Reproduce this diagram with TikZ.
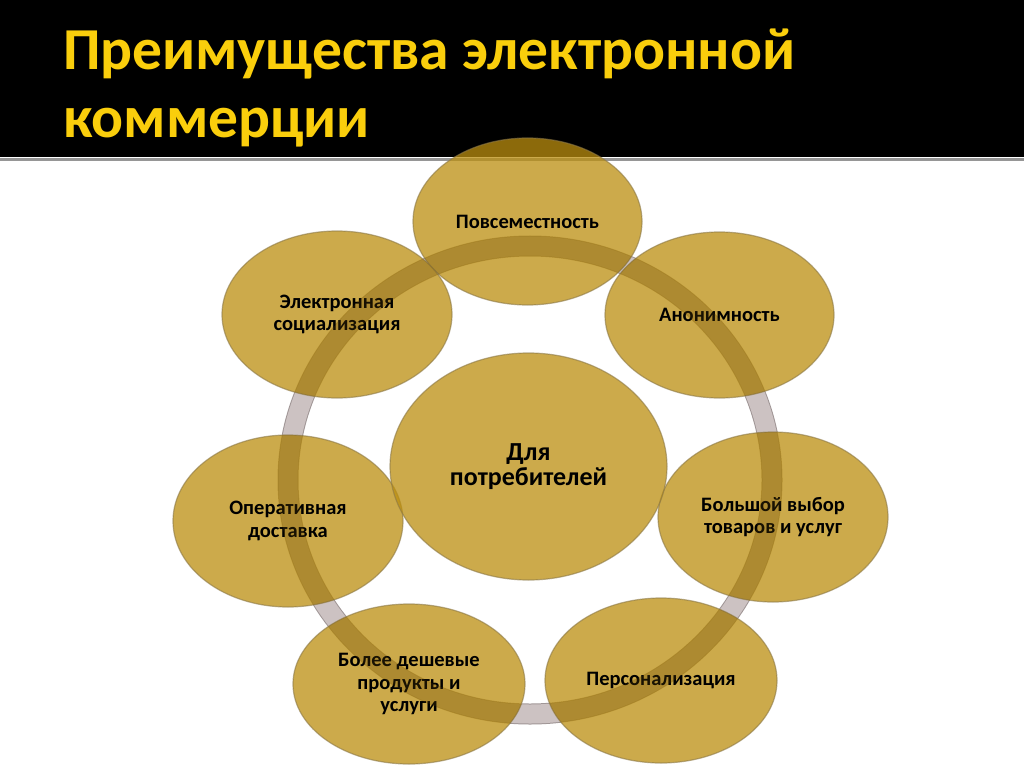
\documentclass[tikz,border=0pt]{standalone}
\usepackage{fontspec}
\setmainfont{Carlito}
\usetikzlibrary{shapes.geometric}
\definecolor{gold}{RGB}{187,142,16}
\definecolor{edgecol}{RGB}{140,120,70}
\definecolor{ringfill}{RGB}{204,194,194}
\definecolor{ringedge}{RGB}{160,150,150}
\definecolor{bandcol}{RGB}{110,80,10}
\definecolor{titlegold}{RGB}{250,206,12}
\definecolor{hdrline}{RGB}{150,150,150}
\tikzset{
  ell/.style={ellipse, draw=edgecol, line width=1.2pt, fill=gold, fill opacity=0.75,
    draw opacity=0.6, text opacity=1, inner sep=0pt, align=center,
    font=\fontsize{20.5}{22.5}\bfseries\selectfont, text=black},
  titletext/.style={anchor=base west, text=titlegold, font=\fontsize{59.5}{68}\bfseries\selectfont, inner sep=0pt},
  ringpath/.style={x radius=242, y radius=234}
}
\begin{document}
\begin{tikzpicture}[x=1pt,y=-1pt]
\useasboundingbox (0,0) rectangle (1024,767);
\fill[white] (0,0) rectangle (1024,767);
\fill[black] (0,0) rectangle (1024,157);
\draw[hdrline, line width=2.5pt] (0,159.5) -- (1024,159.5);
\node[titletext] (t1) at (63,70) {Преимущества электронной};
\node[titletext] (t2) at (63,138) {коммерции};
\coordinate (ringc) at (530,480);
\draw[ringedge, line width=21pt] (ringc) ellipse [ringpath];
\draw[ringfill, line width=19pt] (ringc) ellipse [ringpath];
\node[ell, minimum width=229pt, minimum height=167pt] (n1) at (527.5,221.5) {Повсеместность};
\node[ell, minimum width=229pt, minimum height=166pt] (n2) at (719.5,315) {Анонимность};
\node[ell, minimum width=230pt, minimum height=170pt] (n3) at (773,517) {Большой выбор\\товаров и услуг};
\node[ell, minimum width=232pt, minimum height=165pt] (n4) at (661,680.5) {Персонализация};
\node[ell, minimum width=232pt, minimum height=160pt] (n5) at (409,684) {Более дешевые\\продукты и\\услуги};
\node[ell, minimum width=230pt, minimum height=172pt] (n6) at (288,521) {Оперативная\\доставка};
\node[ell, minimum width=230pt, minimum height=167pt] (n7) at (337,314.5) {Электронная\\социализация};
\node[ell, minimum width=277pt, minimum height=227pt, font=\fontsize{26}{25}\bfseries\selectfont] (c) at (528.5,466.5) {Для\\потребителей};
\begin{scope}
\clip (n1.center) ellipse [x radius=114.5, y radius=83.5]
      (n2.center) ellipse [x radius=114.5, y radius=83]
      (n3.center) ellipse [x radius=115, y radius=85]
      (n4.center) ellipse [x radius=116, y radius=82.5]
      (n5.center) ellipse [x radius=116, y radius=80]
      (n6.center) ellipse [x radius=115, y radius=86]
      (n7.center) ellipse [x radius=115, y radius=83.5];
\draw[bandcol, line width=20pt, opacity=0.22] (ringc) ellipse [ringpath];
\end{scope}
\end{tikzpicture}
\end{document}
